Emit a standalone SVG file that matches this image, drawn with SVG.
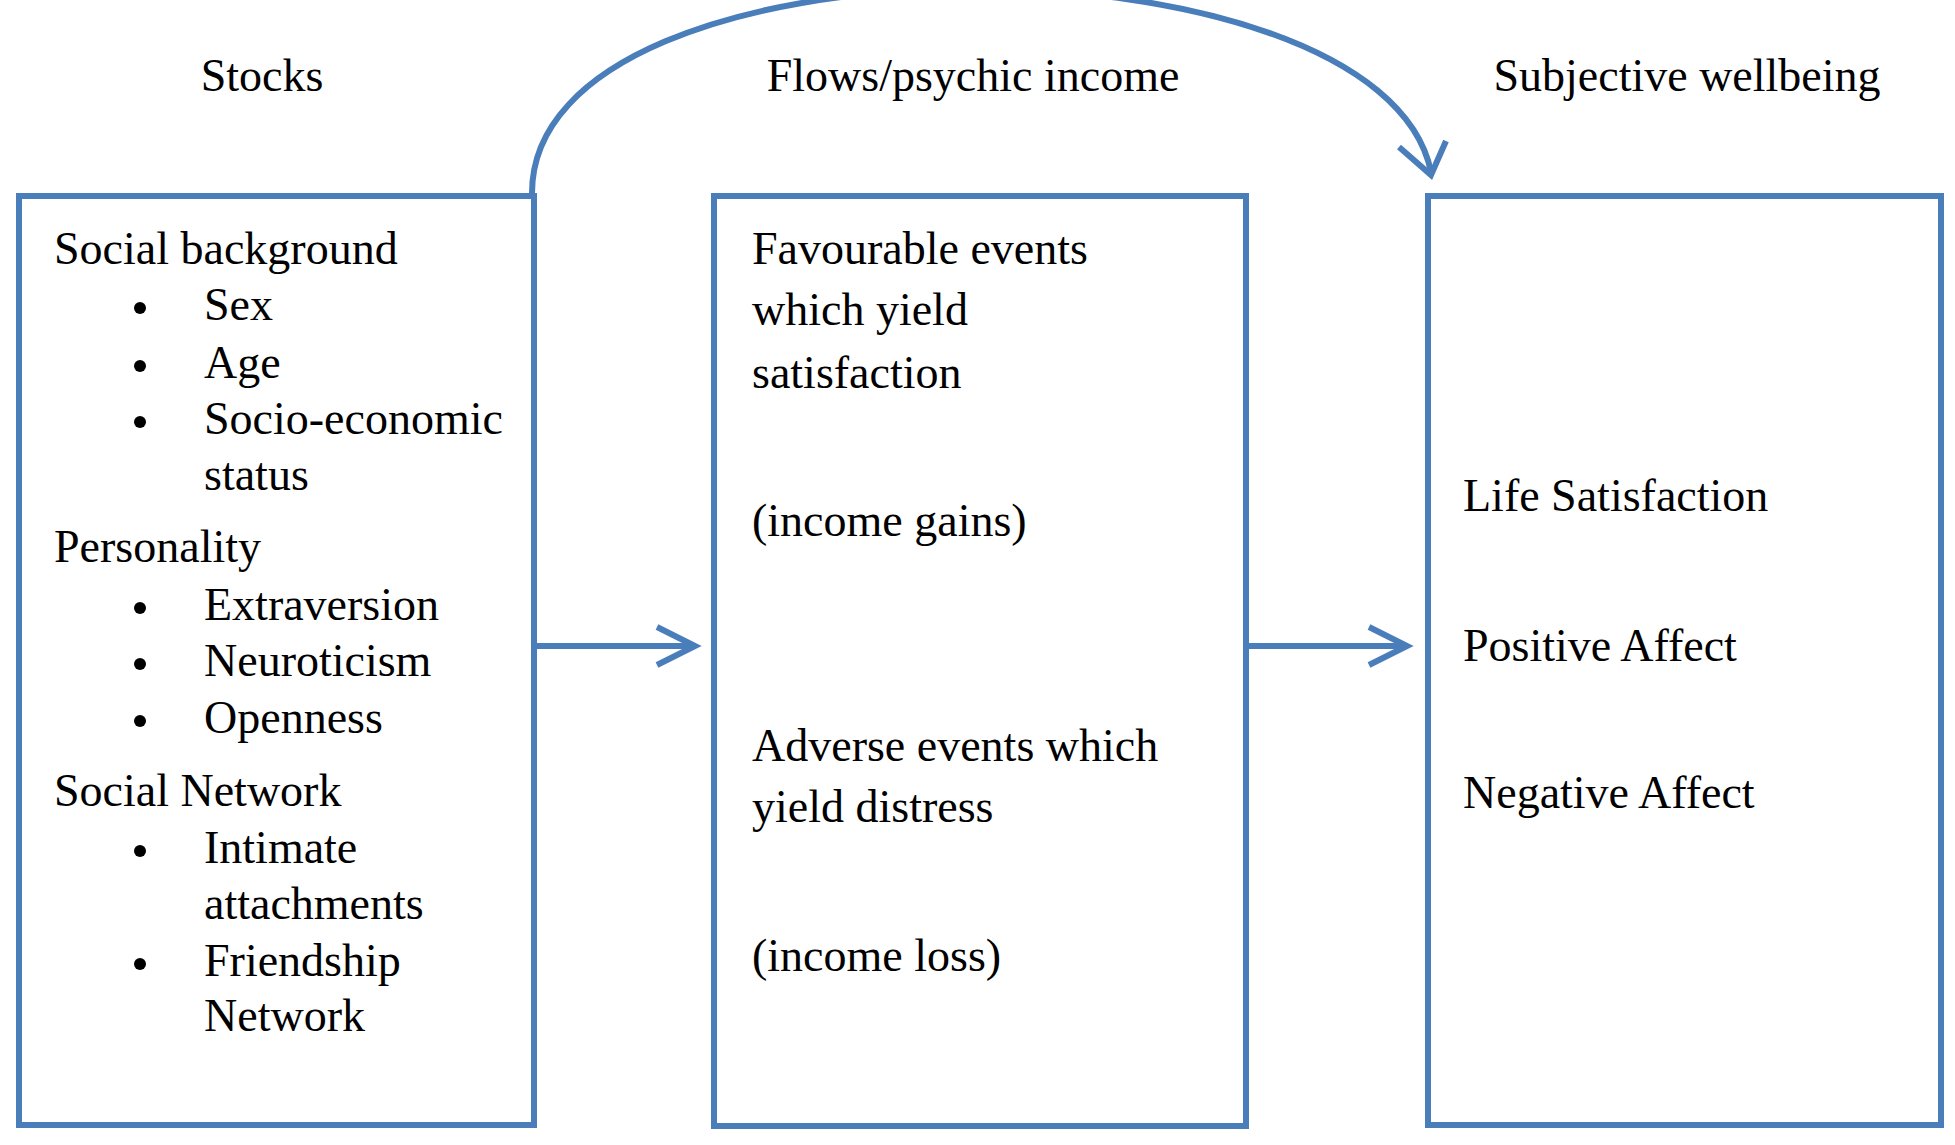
<svg xmlns="http://www.w3.org/2000/svg" width="1955" height="1145" viewBox="0 0 1955 1145">
<style>
.box{fill:#fff;stroke:#4a7ebb;stroke-width:6}
.ln{fill:none;stroke:#4a7ebb;stroke-width:6}
text{font-family:"Liberation Serif","DejaVu Serif",serif;font-size:46px;fill:#000}
.h{text-anchor:middle}
</style>
<rect width="1955" height="1145" fill="#fff"/>
<g id="headers">
<text class="h" x="262" y="91">Stocks</text>
<text class="h" x="973" y="91">Flows/psychic income</text>
<text class="h" x="1687" y="91">Subjective wellbeing</text>
</g>
<g id="connectors">
<path class="ln" d="M532,193 C532,-76 1380,-76 1431,172"/>
<polyline class="ln" points="1399,147 1431,175 1446,141"/>
<line class="ln" x1="534" y1="646" x2="693" y2="646"/>
<polyline class="ln" points="657,627 695,646 657,665"/>
<line class="ln" x1="1246" y1="646" x2="1405" y2="646"/>
<polyline class="ln" points="1369,627 1407,646 1369,665"/>
</g>
<g id="stocks">
<rect class="box" x="19" y="196" width="515" height="929"/>
<text x="54" y="264">Social background</text>
<text x="204" y="320">Sex</text>
<text x="204" y="378">Age</text>
<text x="204" y="434">Socio-economic</text>
<text x="204" y="490">status</text>
<text x="54" y="562">Personality</text>
<text x="204" y="620">Extraversion</text>
<text x="204" y="676">Neuroticism</text>
<text x="204" y="733">Openness</text>
<text x="54" y="806">Social Network</text>
<text x="204" y="863">Intimate</text>
<text x="204" y="919">attachments</text>
<text x="204" y="976">Friendship</text>
<text x="204" y="1031">Network</text>
<g fill="#000">
<circle cx="140" cy="308" r="6"/><circle cx="140" cy="366" r="6"/><circle cx="140" cy="422" r="6"/>
<circle cx="140" cy="608" r="6"/><circle cx="140" cy="664" r="6"/><circle cx="140" cy="721" r="6"/>
<circle cx="140" cy="851" r="6"/><circle cx="140" cy="964" r="6"/>
</g>
</g>
<g id="flows">
<rect class="box" x="714" y="196" width="532" height="930"/>
<text x="752" y="264">Favourable events</text>
<text x="752" y="325">which yield</text>
<text x="752" y="388">satisfaction</text>
<text x="752" y="536">(income gains)</text>
<text x="752" y="761">Adverse events which</text>
<text x="752" y="822">yield distress</text>
<text x="752" y="971">(income loss)</text>
</g>
<g id="wellbeing">
<rect class="box" x="1428" y="196" width="513" height="929"/>
<text x="1463" y="511">Life Satisfaction</text>
<text x="1463" y="661">Positive Affect</text>
<text x="1463" y="808">Negative Affect</text>
</g>
</svg>
